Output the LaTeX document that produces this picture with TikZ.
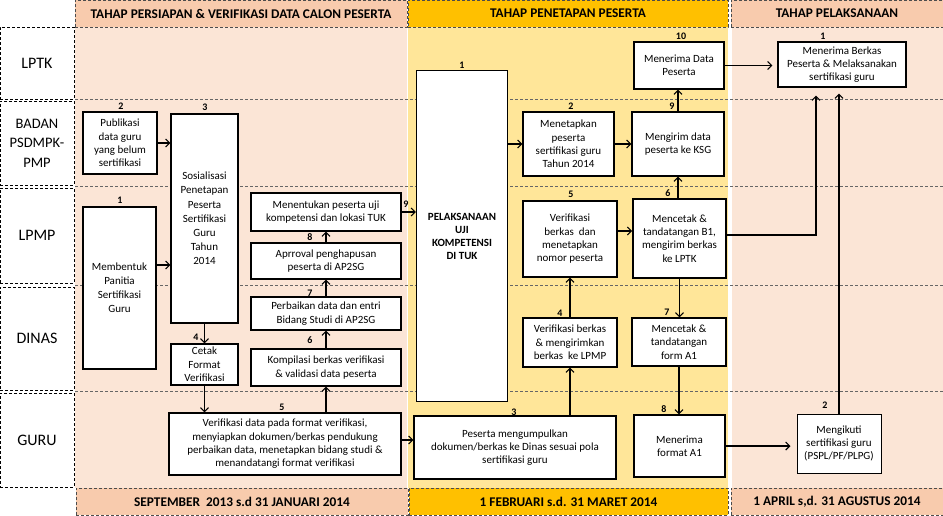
\documentclass[tikz,border=0pt]{standalone}
\usepackage{fontspec}
\setmainfont{Carlito}
\usetikzlibrary{arrows.meta}
\definecolor{peachbg}{HTML}{FBE5D6}
\definecolor{peachhd}{HTML}{F8CBAD}
\definecolor{goldbg}{HTML}{FFE699}
\definecolor{goldhd}{HTML}{FFC000}

\begin{document}
\begin{tikzpicture}[x=1pt,y=-1pt,
		box/.style={draw, line width=1.3pt, fill=white, align=center, inner sep=1pt,
			font=\fontsize{11}{13.3}\selectfont},
		lane/.style={draw, densely dashed, line width=0.8pt, fill=white, align=center,
			minimum width=74pt, font=\fontsize{16}{19.5}\selectfont},
		head/.style={draw=black!70, densely dashed, line width=0.7pt, align=center,
			minimum height=27pt, font=\bfseries\fontsize{13.3}{15}\selectfont},
		num/.style={inner sep=0pt, font=\bfseries\fontsize{10}{11}\selectfont},
		arr/.style={-{Straight Barb[length=4pt,width=8pt]}, line width=1.1pt},
		sep/.style={densely dashed, line width=0.7pt, black!60}]
		\useasboundingbox (0,0) rectangle (943,515);
		
		% backgrounds of the three stages
		\fill[peachbg] (75,27) rectangle (407,488);
		\fill[goldbg] (408,27) rectangle (728,488);
		\fill[peachbg] (732,27) rectangle (943,488);
		\foreach \y in {99,186,285,391}
			\draw[sep] (75,\y) -- (943,\y);
		
		\node[head, fill=peachhd, minimum width=332pt] (hpersiapan) at (241,13.5) {TAHAP PERSIAPAN \& VERIFIKASI DATA CALON PESERTA};
		\node[head, fill=goldhd, minimum width=320pt] (hpenetapan) at (568,13.5) {TAHAP PENETAPAN PESERTA};
		\node[head, fill=peachhd, minimum width=212pt] (hpelaksanaan) at (837,13.5) {TAHAP PELAKSANAAN};
		\node[head, fill=peachhd, minimum width=332pt] (fpersiapan) at (242,501.5) {SEPTEMBER\ \ 2013 s.d 31 JANUARI 2014};
		\node[head, fill=goldhd, minimum width=319pt] (fpenetapan) at (568.5,501.5) {1 FEBRUARI s.d. 31 MARET 2014};
		\node[head, fill=peachhd, minimum width=212pt] (fpelaksanaan) at (837,501.5) {1 APRIL s,d. 31 AGUSTUS 2014};
		
		\node[lane, minimum height=72pt] (lptk) at (37,63) {LPTK};
		\node[lane, minimum height=84pt, font=\fontsize{14.5}{19.5}\selectfont] (badan) at (37,143) {BADAN\\PSDMPK-\\PMP};
		\node[lane, minimum height=95pt] (lpmp) at (37,235.5) {LPMP};
		\node[lane, minimum height=103pt] (dinas) at (37,338.5) {DINAS};
		\node[lane, minimum height=94pt] (guru) at (37,440) {GURU};
		
		% tahap persiapan
		\node[box, minimum width=74pt, minimum height=62pt] (pub) at (120,143) {Publikasi\\data guru\\yang belum\\sertifikasi};
		\node[box, minimum width=67pt, minimum height=209pt, font=\fontsize{11}{14.2}\selectfont] (sos) at (204.5,218.5) {Sosialisasi\\Penetapan\\Peserta\\Sertifikasi\\Guru\\Tahun\\2014};
		\node[box, minimum width=73pt, minimum height=162pt, font=\fontsize{11}{14}\selectfont] (panitia) at (119.5,288) {Membentuk\\Panitia\\Sertifikasi\\Guru};
		\node[box, minimum width=67pt, minimum height=41pt] (cetak) at (204.5,364.5) {Cetak\\Format\\Verifikasi};
		\node[box, minimum width=150pt, minimum height=38pt] (menentukan) at (326,212) {Menentukan peserta uji\\kompetensi dan lokasi TUK};
		\node[box, minimum width=150pt, minimum height=36pt] (approval) at (326,261) {Aprroval penghapusan\\peserta di AP2SG};
		\node[box, minimum width=150pt, minimum height=33pt] (perbaikan) at (326,313.5) {Perbaikan data dan entri\\Bidang Studi di AP2SG};
		\node[box, minimum width=150pt, minimum height=37pt] (kompilasi) at (326,367.5) {Kompilasi berkas verifikasi\\\& validasi data peserta};
		\node[box, minimum width=232pt, minimum height=62pt] (verdata) at (285,444) {Verifikasi data pada format verifikasi,\\menyiapkan dokumen/berkas pendukung\\perbaikan data, menetapkan bidang studi \&\\menandatangi format verifikasi};
		
		% tahap penetapan
		\node[box, minimum width=91pt, minimum height=331pt, font=\bfseries\fontsize{11}{13}\selectfont] (tuk) at (462,236) {PELAKSANAAN\\UJI\\KOMPETENSI\\DI TUK};
		\node[box, minimum width=91pt, minimum height=64pt] (menetapkan) at (568.5,144) {Menetapkan\\peserta\\sertifikasi guru\\Tahun 2014};
		\node[box, minimum width=92pt, minimum height=64pt] (kirimksg) at (678,144) {Mengirim data\\peserta ke KSG};
		\node[box, minimum width=90pt, minimum height=47pt] (terimadata) at (679,65.5) {Menerima Data\\Peserta};
		\node[box, minimum width=94pt, minimum height=76pt] (verberkas5) at (570,239) {Verifikasi\\berkas\ \ dan\\menetapkan\\nomor peserta};
		\node[box, minimum width=93pt, minimum height=79pt, line width=1.6pt] (cetakb1) at (679.5,238.5) {Mencetak \&\\tandatangan B1,\\mengirim berkas\\ke LPTK};
		\node[box, minimum width=94pt, minimum height=49pt] (verberkas4) at (570,342.5) {Verifikasi berkas\\\& mengirimkan\\berkas\ \ ke LPMP};
		\node[box, minimum width=94pt, minimum height=48pt] (cetaka1) at (679,342) {Mencetak \&\\tandatangan\\form A1};
		\node[box, minimum width=202pt, minimum height=63pt] (kumpul) at (515,447.5) {Peserta mengumpulkan\\dokumen/berkas ke Dinas sesuai pola\\sertifikasi guru};
		\node[box, minimum width=91pt, minimum height=62pt] (terimaa1) at (679.5,446) {Menerima\\format A1};
		
		% tahap pelaksanaan
		\node[box, minimum width=128pt, minimum height=45pt] (terimaberkas) at (842,64.5) {Menerima Berkas\\Peserta \& Melaksanakan\\sertifikasi guru};
		\node[box, minimum width=84pt, minimum height=59pt, line width=1pt] (ikuti) at (839,443.5) {Mengikuti\\sertifikasi guru\\(PSPL/PF/PLPG)};
		
		% connectors
		\coordinate (pan2sos) at ([yshift=23pt]panitia.east);
		\coordinate (ver2kum) at ([yshift=4pt]verdata.east);
		\coordinate (b1tok) at ([yshift=8pt]verberkas5.east);
		\coordinate (b1out) at ([yshift=3.5pt]cetakb1.east);
		\coordinate (b1up) at (816,0);
		\draw[arr] (pub.east) -- (pub.east -| sos.west);
		\draw[arr] (pan2sos) -- (pan2sos -| sos.west);
		\draw[arr] (sos.south) -- (cetak.north);
		\draw[arr] (cetak.south) -- (cetak.south |- verdata.north);
		\draw[arr] (kompilasi.south |- verdata.north) -- (kompilasi.south);
		\draw[arr] (kompilasi.north) -- (perbaikan.south);
		\draw[arr] (perbaikan.north) -- (approval.south);
		\draw[arr] (approval.north) -- (menentukan.south);
		\draw[arr] (menentukan.east) -- (menentukan.east -| tuk.west);
		\draw[arr] (ver2kum) -- (ver2kum -| kumpul.west);
		\draw[arr] (menetapkan.west -| tuk.east) -- (menetapkan.west);
		\draw[arr] (menetapkan.east) -- (kirimksg.west);
		\draw[arr] (kirimksg.north) -- (kirimksg.north |- terimadata.south);
		\draw[arr] (kirimksg.south |- cetakb1.north) -- (kirimksg.south);
		\draw[arr] (b1tok) -- (b1tok -| cetakb1.west);
		\draw[arr] (verberkas4.north) -- (verberkas5.south);
		\draw[arr] (verberkas4.south |- kumpul.north) -- (verberkas4.south);
		\draw[arr] (cetakb1.south) -- (cetakb1.south |- cetaka1.north);
		\draw[arr] (cetaka1.south) -- (cetaka1.south |- terimaa1.north);
		\draw[arr, shorten >=6pt] (terimaa1.east) -- (terimaa1.east -| ikuti.west);
		\draw[arr, shorten >=5pt] (terimadata.east) -- (terimadata.east -| terimaberkas.west);
		\draw[arr, shorten >=8pt] (b1out) -| (terimaberkas.south -| b1up);
		\draw[arr, shorten >=6pt] (ikuti.north) -- (ikuti.north |- terimaberkas.south);
		
		% step numbers
		\node[num] (npub) at (121,106) {2};
		\node[num] (nsos) at (205,107) {3};
		\node[num] (npanitia) at (120,200) {1};
		\node[num] (ncetak) at (196,337) {4};
		\node[num] (nmenentukan) at (406,204) {9};
		\node[num] (napproval) at (310,237) {8};
		\node[num] (nperbaikan) at (310,293) {7};
		\node[num] (nkompilasi) at (310,340) {6};
		\node[num] (nverdata) at (282,407) {5};
		\node[num] (ntuk) at (462,65) {1};
		\node[num] (nmenetapkan) at (571,106) {2};
		\node[num] (nterimadata) at (681,36) {10};
		\node[num] (nkirimksg) at (672,106) {9};
		\node[num] (nverberkas5) at (571,194) {5};
		\node[num] (ncetakb1) at (668,193) {6};
		\node[num] (ncetaka1) at (667,312) {7};
		\node[num] (nverberkas4) at (560,313) {4};
		\node[num] (nkumpul) at (514,412) {3};
		\node[num] (nterimaa1) at (664,409) {8};
		\node[num] (nterimaberkas) at (823,36) {1};
		\node[num] (nikuti) at (825,405) {2};
	\end{tikzpicture}
\end{document}
